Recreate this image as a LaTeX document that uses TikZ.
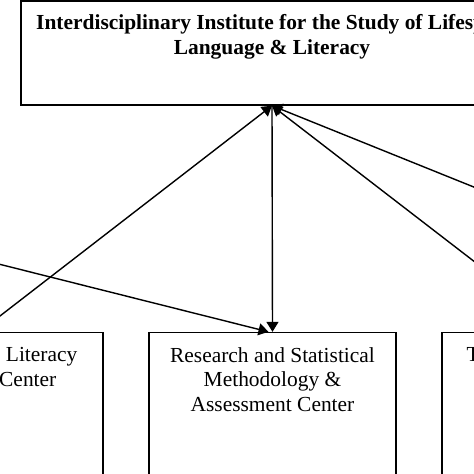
\documentclass[tikz,border=0pt]{standalone}
\usepackage{fontspec}
\setmainfont{Liberation Serif}
\usetikzlibrary{arrows.meta, positioning}

\begin{document}
\begin{tikzpicture}[
    x=0.02cm, y=-0.02cm,
    unitbox/.style={draw, line width=0.8pt, minimum width=4.94cm, minimum height=4.54cm, inner sep=0pt},
    boxtext/.style={font=\fontsize{12.2}{14.2}\selectfont, align=center, inner sep=0pt},
    link/.style={{Triangle[length=2mm,width=2.4mm]}-, line width=0.8pt}
]
    \useasboundingbox[fill=white] (0,0) rectangle (474,474);

    % Units
    \node[draw, line width=0.8pt, minimum width=10.04cm, minimum height=2.08cm, inner sep=0pt] (inst) at (272,53) {};
    \node[boxtext, font=\fontsize{12.2}{14.2}\selectfont\bfseries, anchor=north] (insttext) at ([yshift=-0.27cm]inst.north) {Interdisciplinary Institute for the Study of Lifespan\\Language \& Literacy};
    \node[unitbox] (lit) at (-20.5,446) {};
    \node[boxtext, anchor=north east, align=right] (littext) at ([xshift=-0.52cm, yshift=-0.3cm]lit.north east) {Literacy\\Center\hspace*{0.42cm}};
    \node[unitbox] (res) at (272.5,446) {};
    \node[boxtext, anchor=north] (restext) at ([yshift=-0.3cm]res.north) {Research and Statistical\\Methodology \&\\Assessment Center};
    \node[unitbox] (third) at (565.5,446) {};
    \node[boxtext, anchor=north west] (thirdtext) at ([xshift=0.5cm, yshift=-0.3cm]third.north west) {T};
    \coordinate (farright) at (836,333);
    \coordinate (farleft) at (-300,189);

    % Links
    \draw[link] (inst.south) -- (lit.north);
    \draw[link, -{Triangle[length=2mm,width=2.4mm]}] (inst.south) -- (res.north);
    \draw[link] (inst.south) -- (third.north);
    \draw[link] (inst.south) -- (farright);
    \draw[link] ([xshift=-0.08cm]res.north) -- (farleft);
\end{tikzpicture}
\end{document}
